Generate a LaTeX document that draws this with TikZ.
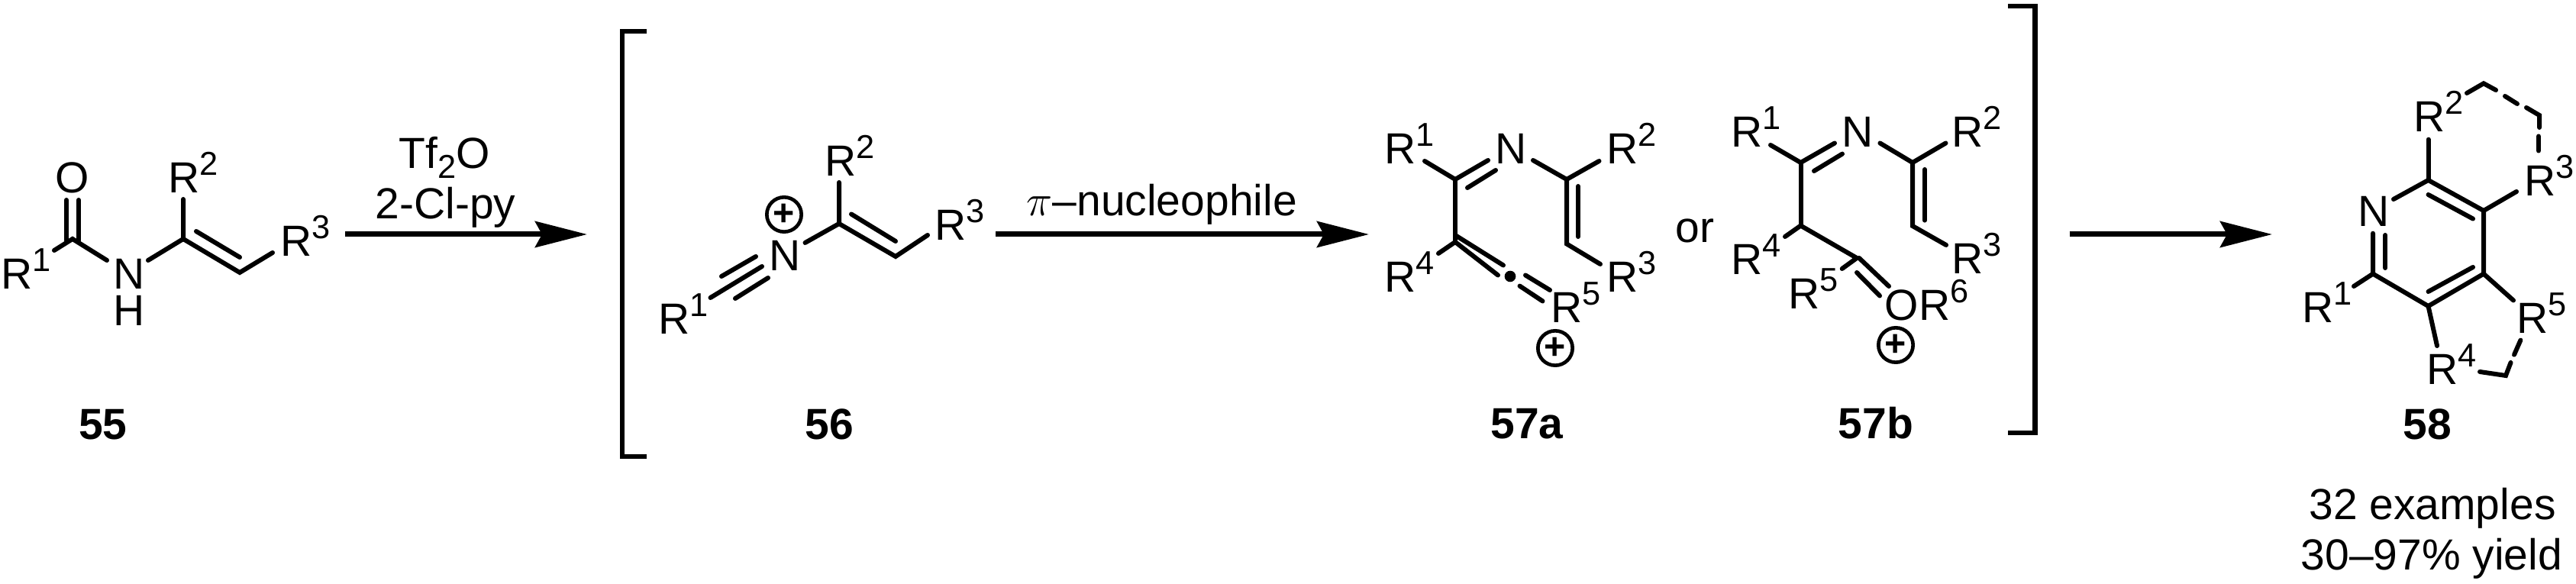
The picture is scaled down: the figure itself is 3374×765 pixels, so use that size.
\documentclass[tikz,border=0pt]{standalone}
\usepackage{fontspec}
\setmainfont{Liberation Sans}
\usepackage{tikz}
\usetikzlibrary{arrows.meta}

\newcommand{\rgrp}[1]{R\raisebox{6.9pt}{\fontsize{13}{13}\selectfont #1}}
\tikzset{
	atom/.style={anchor=base west,inner sep=0pt,font=\fontsize{17.1}{20}\selectfont},
	cmpd/.style={anchor=base,inner sep=0pt,font=\fontsize{17.1}{20}\selectfont\bfseries},
	bond/.style={line width=1.8pt,line cap=round,line join=miter},
	brack/.style={line width=2pt,line join=miter},
	rxn/.style={line width=2.1pt,-{Stealth[length=20.4pt,width=10.2pt,inset=2.7pt]}},
	charge/.style={circle,draw,line width=1.4pt,minimum size=13.6pt,inner sep=0pt,font=\fontsize{14.5}{15}\selectfont\bfseries}
}

\begin{document}
\begin{tikzpicture}[x=0.3pt,y=-0.3pt]
	\useasboundingbox (0,0) rectangle (3374,765);

	% 55
	\node(aRone) [atom] at (1,379) {\rgrp{1}};
	\node(aN) [atom] at (148,379) {N};
	\node(aH) [atom] at (148,427) {H};
	\node(aO) [atom] at (72,253) {O};
	\node(aRtwo) [atom] at (220,253) {\rgrp{2}};
	\node(aRthree) [atom] at (367,336) {\rgrp{3}};
	\node(aname) [cmpd] at (135,576) {55};
	\coordinate (a1) at (71,328); \coordinate (a2) at (95,313); \coordinate (a3) at (140,341);
	\coordinate (a4) at (194,341); \coordinate (a5) at (240,313); \coordinate (a6) at (240,261);
	\coordinate (a7) at (314,357); \coordinate (a8) at (357,331);
	\coordinate (a9) at (257,303); \coordinate (a10) at (314,337);
	\coordinate (a11) at (87,262); \coordinate (a12) at (87,315);
	\coordinate (a13) at (103,262); \coordinate (a14) at (103,315);
	\draw[bond] (a1) -- (a2) -- (a3);
	\draw[bond] (a4) -- (a5) -- (a6);
	\draw[bond] (a5) -- (a7) -- (a8);
	\draw[bond] (a9) -- (a10);
	\draw[bond] (a11) -- (a12);
	\draw[bond] (a13) -- (a14);

	% first arrow
	\coordinate (arrowAs) at (452,307); \coordinate (arrowAe) at (769,307);
	\draw[rxn] (arrowAs) -- (arrowAe);
	\node(tfo) [anchor=base,inner sep=0pt,font=\fontsize{17.1}{20}\selectfont] at (582,221) {Tf\raisebox{-3.9pt}{\fontsize{13}{13}\selectfont 2}O};
	\node(clpy) [anchor=base,inner sep=0pt,font=\fontsize{17.1}{20}\selectfont] at (583.5,287) {2-Cl-py};

	% left bracket
	\coordinate (brL1) at (847,41); \coordinate (brL2) at (815,41);
	\coordinate (brL3) at (815,598); \coordinate (brL4) at (847,598);
	\draw[brack] (brL1) -- (brL2) -- (brL3) -- (brL4);

	% 56
	\node(bRone) [atom] at (862,438) {\rgrp{1}};
	\node(bN) [atom] at (1007,355) {N};
	\node(bRtwo) [atom] at (1080,231) {\rgrp{2}};
	\node(bRthree) [atom] at (1224,315) {\rgrp{3}};
	\node(bplus) [charge] at (1027,281) {+};
	\node(bname) [cmpd] at (1086,576) {56};
	\coordinate (b1) at (930.5,390); \coordinate (b2) at (998,349);
	\coordinate (b3) at (945,362); \coordinate (b4) at (990,336);
	\coordinate (b5) at (963,391); \coordinate (b6) at (1006,364);
	\coordinate (b7) at (1054.5,318); \coordinate (b8) at (1099,293); \coordinate (b9) at (1099,239);
	\coordinate (b10) at (1173,336); \coordinate (b11) at (1215,308);
	\coordinate (b12) at (1115,280.5); \coordinate (b13) at (1173,316);
	\draw[bond] (b1) -- (b2);
	\draw[bond] (b3) -- (b4);
	\draw[bond] (b5) -- (b6);
	\draw[bond] (b7) -- (b8) -- (b9);
	\draw[bond] (b8) -- (b10) -- (b11);
	\draw[bond] (b12) -- (b13);

	% second arrow
	\coordinate (arrowBs) at (1304,307); \coordinate (arrowBe) at (1793,307);
	\draw[rxn] (arrowBs) -- (arrowBe);
	\node(nuc) [anchor=base west,inner sep=0pt,font=\fontsize{17.1}{20}\selectfont] at (1344,283) {$\pi$--nucleophile};

	% 57a
	\node(cRone) [atom] at (1813,215) {\rgrp{1}};
	\node(cN) [atom] at (1958,215) {N};
	\node(cRtwo) [atom] at (2104,215) {\rgrp{2}};
	\node(cRfour) [atom] at (1813,383) {\rgrp{4}};
	\node(cRthree) [atom] at (2104,383) {\rgrp{3}};
	\node(cRfive) [atom] at (2031,423) {\rgrp{5}};
	\node(cplus) [charge] at (2037,456) {+};
	\node(cdot) [circle,fill,inner sep=0pt,minimum size=4.4pt] at (1978,362) {};
	\node(cname) [cmpd] at (2000,575) {57a};
	\coordinate (c1) at (1866,211); \coordinate (c2) at (1906,235); \coordinate (c3) at (1949,210);
	\coordinate (c4) at (1922,246); \coordinate (c5) at (1959,223);
	\coordinate (c6) at (1906,317); \coordinate (c7) at (1884,332); \coordinate (c8) at (1962,360.5);
	\coordinate (c9) at (1907.5,309); \coordinate (c10) at (1969,347.5);
	\coordinate (c11) at (1998,360.5); \coordinate (c12) at (2030,380);
	\coordinate (c13) at (1990.5,374.6); \coordinate (c14) at (2020.5,394.5);
	\coordinate (c15) at (2008,210); \coordinate (c16) at (2052,235); \coordinate (c17) at (2094.5,211);
	\coordinate (c18) at (2052,319.5); \coordinate (c19) at (2096,346);
	\coordinate (c20) at (2067,244); \coordinate (c21) at (2067,310);
	\draw[bond] (c1) -- (c2) -- (c3);
	\draw[bond] (c4) -- (c5);
	\draw[bond] (c2) -- (c6);
	\draw[bond] (c7) -- (c6) -- (c8);
	\draw[bond] (c9) -- (c10);
	\draw[bond] (c11) -- (c12);
	\draw[bond] (c13) -- (c14);
	\draw[bond] (c15) -- (c16) -- (c17);
	\draw[bond] (c16) -- (c18) -- (c19);
	\draw[bond] (c20) -- (c21);

	\node(ortext) [atom] at (2194,318) {or};

	% 57b
	\node(dRone) [atom] at (2267,193) {\rgrp{1}};
	\node(dN) [atom] at (2412,193) {N};
	\node(dRtwo) [atom] at (2556,193) {\rgrp{2}};
	\node(dRfour) [atom] at (2267,359.5) {\rgrp{4}};
	\node(dRthree) [atom] at (2556,359) {\rgrp{3}};
	\node(dRfive) [atom] at (2342,405) {\rgrp{5}};
	\node(dO) [atom] at (2468,420) {O\rgrp{6}};
	\node(dplus) [charge] at (2483,452) {+};
	\node(dname) [cmpd] at (2457,575) {57b};
	\coordinate (d1) at (2319,190); \coordinate (d2) at (2358.5,213); \coordinate (d3) at (2403,187.5);
	\coordinate (d4) at (2376,224); \coordinate (d5) at (2413,201.6);
	\coordinate (d6) at (2358.5,295.6); \coordinate (d7) at (2338,310); \coordinate (d8) at (2432,338);
	\coordinate (d9) at (2412.7,352);
	\coordinate (d10) at (2435,338); \coordinate (d11) at (2474,375);
	\coordinate (d12) at (2432,357); \coordinate (d13) at (2462,387.5);
	\coordinate (d14) at (2462.4,187.5); \coordinate (d15) at (2505,213); \coordinate (d16) at (2548.5,187.5);
	\coordinate (d17) at (2505,296); \coordinate (d18) at (2549,321);
	\coordinate (d19) at (2521,222); \coordinate (d20) at (2521,288.6);
	\draw[bond] (d1) -- (d2) -- (d3);
	\draw[bond] (d4) -- (d5);
	\draw[bond] (d2) -- (d6);
	\draw[bond] (d7) -- (d6) -- (d8) -- (d9);
	\draw[bond] (d10) -- (d11);
	\draw[bond] (d12) -- (d13);
	\draw[bond] (d14) -- (d15) -- (d16);
	\draw[bond] (d15) -- (d17) -- (d18);
	\draw[bond] (d19) -- (d20);

	% right bracket
	\coordinate (brR1) at (2630,8); \coordinate (brR2) at (2665.5,8);
	\coordinate (brR3) at (2665.5,567); \coordinate (brR4) at (2630,567);
	\draw[brack] (brR1) -- (brR2) -- (brR3) -- (brR4);

	% third arrow
	\coordinate (arrowCs) at (2710.5,307); \coordinate (arrowCe) at (2976,307);
	\draw[rxn] (arrowCs) -- (arrowCe);

	% 58
	\node(eN) [atom] at (3088,297) {N};
	\node(eRone) [atom] at (3015,423) {\rgrp{1}};
	\node(eRtwo) [atom] at (3161,173) {\rgrp{2}};
	\node(eRthree) [atom] at (3306,257) {\rgrp{3}};
	\node(eRfour) [atom] at (3178,504) {\rgrp{4}};
	\node(eRfive) [atom] at (3296,437) {\rgrp{5}};
	\node(ename) [cmpd] at (3179,576) {58};
	\node(eexamples) [anchor=base,inner sep=0pt,font=\fontsize{17.1}{20}\selectfont] at (3186,681) {32 examples};
	\node(eyield) [anchor=base,inner sep=0pt,font=\fontsize{17.1}{20}\selectfont] at (3185,747) {30--97\% yield};
	\coordinate (e1) at (3135,261); \coordinate (e2) at (3180.5,236); \coordinate (e3) at (3253,276);
	\coordinate (e4) at (3253,358.7); \coordinate (e5) at (3180.5,401); \coordinate (e6) at (3108,358.7);
	\coordinate (e7) at (3108,305.7);
	\coordinate (e8) at (3124.4,308); \coordinate (e9) at (3124.4,351);
	\coordinate (e10) at (3180.5,255); \coordinate (e11) at (3239,286.6);
	\coordinate (e12) at (3239,350); \coordinate (e13) at (3180.5,382);
	\coordinate (e14) at (3180.5,182.7); \coordinate (e15) at (3296,251); \coordinate (e16) at (3292,393.5);
	\coordinate (e17) at (3192,453); \coordinate (e18) at (3083,375);
	\draw[bond] (e1) -- (e2) -- (e3) -- (e4) -- (e5) -- (e6) -- (e7);
	\draw[bond] (e8) -- (e9);
	\draw[bond] (e10) -- (e11);
	\draw[bond] (e12) -- (e13);
	\draw[bond] (e2) -- (e14);
	\draw[bond] (e3) -- (e15);
	\draw[bond] (e4) -- (e16);
	\draw[bond] (e5) -- (e17);
	\draw[bond] (e6) -- (e18);
	% broken rings
	\coordinate (f1) at (3231,122); \coordinate (f2) at (3253,109.3); \coordinate (f3) at (3269,118);
	\coordinate (f4) at (3281,126); \coordinate (f5) at (3297,136);
	\coordinate (f6) at (3309,141); \coordinate (f7) at (3326,151); \coordinate (f8) at (3326,167);
	\coordinate (f9) at (3325,178.5); \coordinate (f10) at (3325,197.5);
	\coordinate (g1) at (3301.4,445.6); \coordinate (g2) at (3293,464.7);
	\coordinate (g3) at (3288.5,475); \coordinate (g4) at (3282,492); \coordinate (g5) at (3248,487);
	\draw[bond] (f1) -- (f2) -- (f3);
	\draw[bond] (f4) -- (f5);
	\draw[bond] (f6) -- (f7) -- (f8);
	\draw[bond] (f9) -- (f10);
	\draw[bond] (g1) -- (g2);
	\draw[bond] (g3) -- (g4) -- (g5);
\end{tikzpicture}
\end{document}
